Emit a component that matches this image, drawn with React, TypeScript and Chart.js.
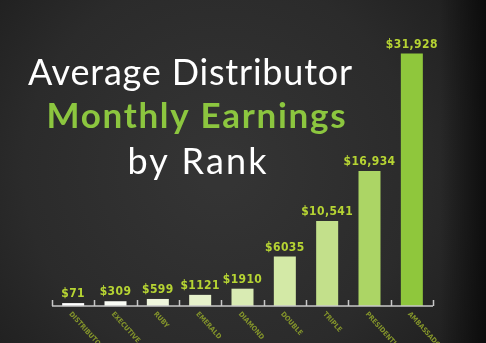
import React, { useEffect, useRef } from "react";
import { Chart, registerables } from "chart.js";

Chart.register(...registerables);

const categories = ["DISTRIBUTOR", "EXECUTIVE", "RUBY", "EMERALD", "DIAMOND", "DOUBLE", "TRIPLE", "PRESIDENTIAL", "AMBASSADOR"];
const earnings = [71, 309, 599, 1121, 1910, 6035, 10541, 16934, 31928];
const valueLabels = ["$71", "$309", "$599", "$1121", "$1910", "$6035", "$10,541", "$16,934", "$31,928"];
const barColors = ["#ffffff", "#fbfdf6", "#eff6dc", "#e6f1ca", "#d9ebb3", "#d3e9a6", "#c3e08b", "#acd565", "#8fc73c"];
const titleLines = ["Average Distributor", "Monthly Earnings", "by Rank"];

const W = 486;
const H = 343;

const bgPlugin = {
  id: "bg",
  beforeDraw(chart: any) {
    const ctx = chart.ctx;
    ctx.save();
    const g = ctx.createRadialGradient(220, 170, 20, 220, 170, 340);
    g.addColorStop(0, "#343434");
    g.addColorStop(0.55, "#2b2b2b");
    g.addColorStop(1, "#1a1a1a");
    ctx.fillStyle = g;
    ctx.fillRect(0, 0, W, H);
    const r = ctx.createLinearGradient(440, 0, W, 0);
    r.addColorStop(0, "rgba(0,0,0,0)");
    r.addColorStop(1, "rgba(0,0,0,0.6)");
    ctx.fillStyle = r;
    ctx.fillRect(440, 0, W - 440, H);
    ctx.restore();
  },
};

function drawSpaced(ctx: any, text: string, cx: number, y: number, spacing: number) {
  ctx.letterSpacing = spacing + "px";
  const w = ctx.measureText(text).width - spacing;
  ctx.textAlign = "left";
  ctx.fillText(text, cx - w / 2, y);
  ctx.letterSpacing = "0px";
}

const titlePlugin = {
  id: "titleText",
  beforeDatasetsDraw(chart: any) {
    const ctx = chart.ctx;
    ctx.save();
    ctx.textBaseline = "alphabetic";
    ctx.fillStyle = "#ffffff";
    ctx.font = "400 36px Lato";
    drawSpaced(ctx, titleLines[0], 190, 85, 0.8);
    ctx.fillStyle = "#8cc63f";
    ctx.font = "700 35px Lato";
    drawSpaced(ctx, titleLines[1], 196, 128, 1.7);
    ctx.fillStyle = "#ffffff";
    ctx.font = "400 36px Lato";
    drawSpaced(ctx, titleLines[2], 197, 174, 2.2);
    ctx.restore();
  },
};

const axisPlugin = {
  id: "axisDecor",
  afterDatasetsDraw(chart: any) {
    const ctx = chart.ctx;
    const xs = chart.scales.x;
    const area = chart.chartArea;
    const y0 = area.bottom;
    const n = categories.length;
    const step = (xs.getPixelForValue(n - 1) - xs.getPixelForValue(0)) / (n - 1);
    ctx.save();
    ctx.strokeStyle = "#c8c8c8";
    ctx.lineWidth = 1.5;
    ctx.beginPath();
    ctx.moveTo(area.left, y0);
    ctx.lineTo(area.right, y0);
    for (let i = 0; i <= n; i++) {
      const x = Math.round(xs.getPixelForValue(0) - step / 2 + i * step) + 0.5;
      ctx.moveTo(x, y0);
      ctx.lineTo(x, y0 - 6);
    }
    ctx.stroke();

    // value labels
    const meta = chart.getDatasetMeta(0);
    ctx.fillStyle = "#b6d433";
    ctx.font = "700 12px 'Liberation Sans Narrow', 'DejaVu Sans Condensed', sans-serif";
    ctx.textAlign = "center";
    ctx.textBaseline = "bottom";
    ctx.letterSpacing = "0.4px";
    meta.data.forEach((bar: any, i: number) => {
      ctx.fillText(valueLabels[i], bar.x, bar.y - 3);
    });
    ctx.letterSpacing = "0px";

    // category labels
    ctx.font = "700 7px 'Liberation Sans Narrow', 'DejaVu Sans Condensed', sans-serif";
    ctx.fillStyle = "#84952b";
    ctx.textAlign = "left";
    ctx.textBaseline = "middle";
    categories.forEach((c, i) => {
      const x = xs.getPixelForValue(i);
      ctx.save();
      ctx.translate(x - 3, y0 + 7);
      ctx.rotate((48 * Math.PI) / 180);
      ctx.fillText(c, 0, 0);
      ctx.restore();
    });
    ctx.restore();
  },
};

export default function App() {
  const ref = useRef<HTMLCanvasElement | null>(null);
  useEffect(() => {
    document.body.style.margin = "0";
    const canvas = ref.current;
    if (!canvas) return;
    const chart = new Chart(canvas, {
      type: "bar",
      data: {
        labels: categories,
        datasets: [
          {
            data: earnings,
            backgroundColor: barColors,
            borderWidth: 0,
            barPercentage: 0.52,
            categoryPercentage: 1,
            base: -300,
          } as any,
        ],
      },
      options: {
        responsive: false,
        animation: false,
        devicePixelRatio: 1,
        layout: { padding: { left: 52, right: 53, top: 53, bottom: 37 } },
        plugins: { legend: { display: false }, tooltip: { enabled: false }, title: { display: false } },
        scales: {
          x: { display: false, grid: { display: false }, offset: true },
          y: { display: false, min: -300, max: 32000, grid: { display: false } },
        },
      },
      plugins: [bgPlugin, titlePlugin, axisPlugin],
    });
    return () => chart.destroy();
  }, []);
  return (
    <div style={{ width: W, height: H, position: "relative" }}>
      <canvas ref={ref} width={W} height={H} style={{ display: "block", width: W, height: H }} />
    </div>
  );
}
